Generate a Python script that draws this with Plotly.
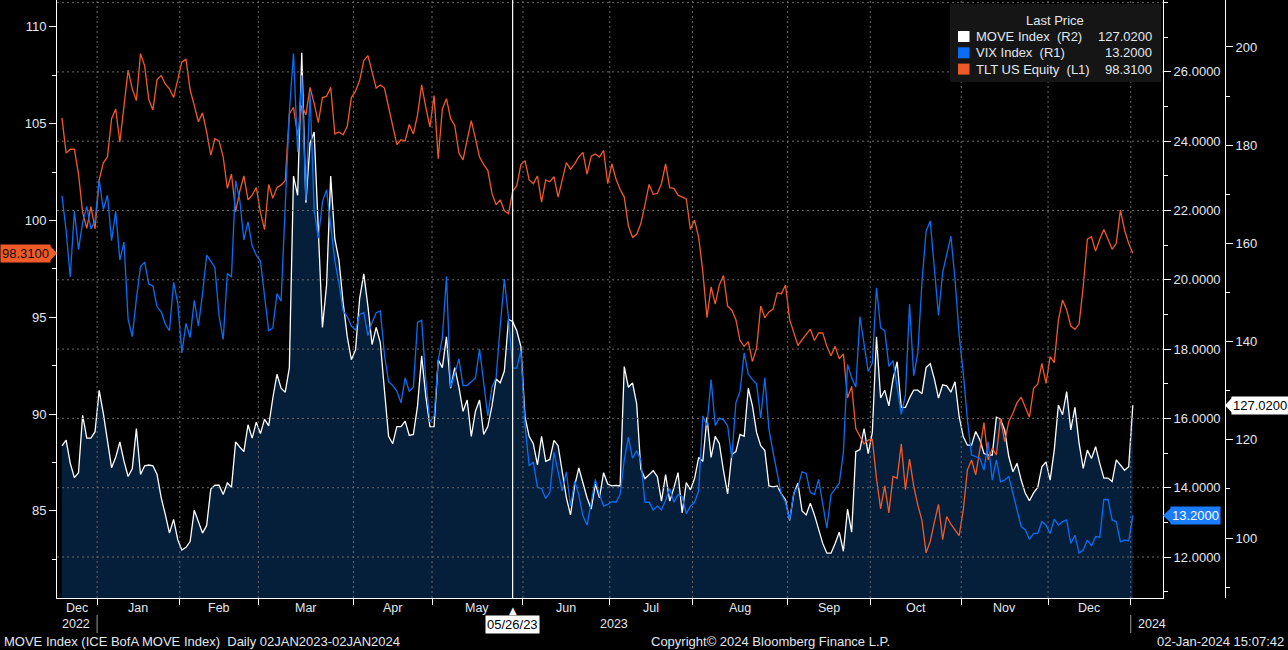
import pandas as pd
import plotly.graph_objects as go

# ---------------- data ----------------
HOLIDAYS = ["2022-12-26", "2023-01-02", "2023-01-16", "2023-02-20", "2023-04-07",
            "2023-05-29", "2023-06-19", "2023-07-04", "2023-09-04", "2023-11-23",
            "2023-12-25", "2024-01-01"]
DATES = [d for d in pd.bdate_range("2022-12-19", "2024-01-02")
         if d.strftime("%Y-%m-%d") not in HOLIDAYS]

MOVE = [
    118.77, 119.94, 115.26, 112.30, 113.31, 125.00, 120.33, 120.33, 121.65, 130.07,
    125.39, 119.94, 114.33, 116.43, 119.55, 115.65, 112.53, 114.09, 122.27, 112.92,
    114.71, 114.87, 114.71, 112.92, 108.24, 104.74, 101.00, 103.80, 99.67, 97.57,
    98.11, 99.28, 105.67, 103.34, 101.00, 102.56, 109.96, 110.74, 110.74, 108.87,
    111.21, 110.35, 119.55, 118.53, 117.60, 123.06, 120.33, 123.60, 121.26, 124.22,
    122.82, 128.51, 133.35, 130.50, 129.70, 134.70, 173.70, 169.80, 198.80, 168.30,
    180.40, 182.70, 162.80, 142.90, 151.50, 173.70, 160.90, 156.60, 148.00, 141.00,
    136.30, 138.30, 148.80, 153.80, 147.20, 139.40, 142.90, 139.80, 130.10, 120.70,
    119.20, 122.70, 122.70, 123.80, 120.90, 121.10, 126.90, 137.10, 128.90, 122.70,
    122.70, 136.30, 134.70, 141.00, 130.50, 134.70, 130.80, 125.80, 128.10, 120.70,
    125.80, 128.10, 121.10, 122.70, 126.90, 132.40, 131.60, 134.00, 144.50, 144.10,
    142.20, 139.00, 124.60, 120.70, 119.20, 114.90, 120.70, 115.60, 116.00, 119.90,
    118.80, 113.70, 108.20, 104.70, 110.60, 114.30, 111.00, 108.20, 105.90, 111.00,
    108.20, 113.30, 111.00, 110.60, 110.70, 110.60, 134.90, 130.70, 131.60, 127.30,
    114.10, 112.10, 112.90, 113.70, 112.50, 107.50, 112.90, 107.50, 110.20, 113.30,
    105.10, 111.30, 109.80, 112.10, 116.40, 115.60, 124.60, 116.40, 120.70, 119.20,
    113.70, 109.00, 117.00, 117.60, 121.10, 120.70, 130.50, 126.90, 121.50, 118.80,
    117.80, 110.60, 110.40, 110.60, 109.00, 107.80, 103.60, 109.00, 111.20, 105.50,
    104.70, 107.10, 104.70, 101.60, 98.90, 96.90, 96.90, 98.90, 101.20, 97.30,
    105.90, 101.20, 117.60, 118.00, 122.30, 117.20, 121.50, 141.00, 128.50, 130.10,
    126.90, 132.40, 135.90, 126.60, 126.60, 128.50, 130.10, 130.10, 129.40, 134.70,
    135.50, 132.40, 128.50, 131.20, 131.00, 129.70, 131.80, 124.70, 120.60, 118.90,
    118.90, 121.70, 120.00, 117.20, 116.90, 116.90, 124.60, 124.20, 122.00, 116.60,
    113.50, 115.20, 111.80, 109.10, 107.60, 109.20, 110.30, 114.50, 115.50, 111.80,
    117.90, 127.10, 125.10, 129.80, 122.00, 126.60, 119.30, 114.20, 117.90, 116.20,
    118.60, 115.20, 112.20, 112.20, 111.50, 115.90, 114.90, 113.80, 114.50, 127.02,
]

VIX = [
    22.42, 21.43, 20.08, 21.98, 20.87, 21.65, 22.12, 21.47, 21.70, 22.88,
    22.03, 22.44, 21.13, 21.98, 20.57, 21.09, 18.86, 18.36, 19.45, 20.38,
    20.51, 19.88, 19.82, 19.22, 19.08, 18.72, 18.53, 19.93, 19.33, 17.89,
    18.74, 18.33, 19.41, 18.66, 19.60, 20.71, 20.54, 20.35, 18.96, 18.28,
    20.18, 20.08, 22.86, 22.31, 21.15, 21.67, 20.98, 20.71, 20.54, 19.55,
    18.53, 18.61, 19.60, 19.38, 22.20, 24.85, 26.53, 23.69, 25.90, 22.30,
    25.40, 22.00, 21.20, 22.25, 22.60, 21.65, 20.54, 19.90, 19.10, 18.94,
    18.66, 18.55, 19.00, 19.05, 18.39, 18.77, 19.05, 19.10, 17.83, 17.06,
    16.95, 16.78, 16.45, 17.17, 16.78, 16.90, 18.77, 18.83, 17.12, 15.90,
    16.07, 17.67, 18.33, 20.10, 16.90, 17.28, 17.72, 16.95, 16.95, 17.06,
    17.17, 18.00, 17.00, 16.07, 16.90, 17.17, 18.66, 20.02, 18.90, 17.45,
    17.45, 17.95, 15.79, 14.63, 14.74, 14.02, 13.97, 13.69, 13.86, 15.02,
    14.46, 13.91, 14.46, 13.47, 14.19, 13.80, 13.19, 12.92, 13.58, 14.24,
    13.80, 13.47, 13.52, 13.60, 13.58, 13.80, 14.80, 15.46, 14.85, 15.07,
    14.80, 13.58, 13.58, 13.36, 13.47, 13.36, 13.64, 13.97, 13.58, 13.80,
    13.75, 13.25, 13.47, 13.58, 13.91, 16.07, 15.79, 17.12, 15.79, 16.01,
    15.96, 15.79, 14.85, 16.45, 16.78, 17.89, 17.28, 17.12, 17.00, 16.01,
    17.17, 15.68, 15.02, 14.41, 13.80, 13.58, 13.08, 13.86, 14.02, 14.46,
    14.41, 13.86, 13.80, 14.24, 13.52, 12.83, 13.80, 13.97, 14.13, 15.02,
    17.56, 17.17, 16.90, 18.94, 18.11, 17.36, 17.60, 19.77, 18.61, 18.53,
    17.50, 17.67, 16.90, 16.12, 16.67, 19.30, 17.23, 17.89, 19.93, 21.40,
    21.70, 20.32, 18.97, 20.21, 20.76, 21.26, 20.00, 18.40, 17.30, 15.95,
    14.94, 14.90, 14.85, 14.51, 15.33, 14.22, 14.80, 14.17, 14.22, 14.32,
    13.84, 13.40, 12.88, 12.78, 12.51, 12.68, 12.68, 13.02, 12.92, 12.68,
    13.09, 12.92, 13.02, 13.07, 12.39, 12.63, 12.11, 12.20, 12.49, 12.32,
    12.59, 12.57, 13.66, 13.66, 13.07, 13.02, 12.44, 12.49, 12.46, 13.20,
]

TLT = [
    105.30, 103.48, 103.68, 103.68, 102.40, 100.42, 99.59, 100.72, 99.57, 102.10,
    102.98, 103.28, 105.26, 105.76, 104.04, 105.85, 107.77, 106.80, 106.20, 108.62,
    107.99, 106.25, 105.71, 107.28, 107.49, 107.04, 106.80, 106.35, 107.24, 108.19,
    108.32, 106.74, 105.95, 105.10, 105.56, 104.57, 103.38, 104.23, 104.11, 103.28,
    101.66, 102.40, 100.46, 101.51, 102.30, 101.07, 101.31, 101.70, 100.42, 99.53,
    101.86, 101.15, 101.70, 101.84, 102.06, 105.50, 105.85, 104.37, 105.95, 105.46,
    106.88, 106.05, 105.06, 106.35, 106.41, 106.88, 104.47, 104.57, 104.43, 104.87,
    106.35, 106.68, 107.24, 108.26, 108.52, 107.73, 106.84, 107.00, 106.84, 105.85,
    104.87, 103.92, 104.17, 104.11, 104.96, 104.47, 105.46, 107.00, 105.85, 104.83,
    106.45, 103.19, 105.76, 106.29, 105.26, 104.91, 103.48, 103.13, 104.17, 105.16,
    104.23, 103.28, 102.89, 102.59, 101.40, 100.81, 101.07, 100.50, 100.35, 101.50,
    101.80, 102.89, 103.09, 102.10, 101.90, 102.30, 100.95, 102.10, 102.00, 102.26,
    101.21, 102.10, 102.99, 102.65, 102.93, 103.28, 103.52, 102.40, 103.32, 103.44,
    103.28, 103.62, 101.90, 102.93, 102.14, 101.60, 101.21, 99.73, 99.13, 99.29,
    99.83, 100.81, 101.86, 101.35, 101.40, 101.90, 102.93, 101.70, 101.66, 101.31,
    101.23, 101.11, 99.53, 100.02, 99.13, 97.36, 94.98, 96.57, 95.68, 96.67,
    97.16, 95.58, 95.38, 94.88, 93.80, 93.50, 93.74, 92.71, 93.40, 95.58,
    94.98, 95.28, 95.42, 96.27, 96.21, 96.67, 94.88, 94.19, 93.54, 93.84,
    94.10, 94.39, 93.80, 94.19, 94.19, 93.50, 93.01, 93.50, 92.85, 93.11,
    90.83, 91.43, 89.25, 88.86, 88.46, 88.66, 88.70, 86.68, 85.10, 86.29,
    84.90, 86.78, 86.68, 88.46, 86.09, 87.67, 86.29, 85.30, 84.51, 82.83,
    83.42, 84.41, 85.34, 83.52, 84.71, 84.31, 84.01, 83.72, 85.05, 87.12,
    87.63, 86.86, 88.15, 89.56, 87.63, 88.23, 87.89, 89.78, 88.58, 89.61,
    90.04, 90.59, 90.87, 90.35, 89.84, 91.33, 91.55, 92.62, 91.59, 92.97,
    92.66, 94.86, 95.89, 95.38, 94.55, 94.38, 94.65, 96.58, 99.04, 99.16,
    98.42, 99.03, 99.54, 99.03, 98.51, 98.82, 100.54, 99.51, 98.82, 98.31,
]

SERIES_NAMES = ["MOVE Index\u00a0\u00a0(R2)", "VIX Index\u00a0\u00a0(R1)", "TLT US Equity\u00a0\u00a0(L1)"]
LEGEND_TITLE = "Last Price"
L1_TICKS = [85, 90, 95, 100, 105, 110]
R1_TICKS = [12, 14, 16, 18, 20, 22, 24, 26]
R1_GRID = [12, 14, 16, 18, 20, 22, 24, 26, 28]
R2_TICKS = [100, 120, 140, 160, 180, 200]
CROSSHAIR_DATE = "2023-05-26"
FOOTER_LEFT = "MOVE Index (ICE BofA MOVE Index)\u00a0\u00a0Daily 02JAN2023-02JAN2024"
FOOTER_MID = "Copyright\u00a9 2024 Bloomberg Finance L.P."
FOOTER_RIGHT = "02-Jan-2024 15:07:42"

# ---------------- style / layout constants ----------------
FONT = "Liberation Sans"
TXT = "#e2e8f0"
ORANGE = "#f05a28"
BLUE = "#0a6ef5"
WHITE = "#ffffff"
FILL = "#051e3a"
GRID = "#6a6a6a"

W, H = 1288, 650
ML, MR, MT, MB = 57, 63, 0, 52
PW, PH = W - ML - MR, H - MT - MB
XDOM = (1163 - ML) / PW
XR = [-1.2, 266.3]
R2_RANGE = [87.78, 209.57]
L1_RANGE = [80.50, 111.39]
R1_RANGE = [10.817, 28.075]


def pxx(p):
    return (p - ML) / PW


def pxy(p):
    return (MT + PH - p) / PH


n = min(len(DATES), len(MOVE), len(VIX), len(TLT))
xi = list(range(n))

# month boundaries (between last trading day of a month and first of the next)
bounds = [k - 0.5 for k in range(1, len(DATES)) if DATES[k].month != DATES[k - 1].month]
seg_edges = [XR[0]] + bounds
seg_labels = [DATES[0].strftime("%b")] + [DATES[int(b + 0.5)].strftime("%b") for b in bounds[:-1]]
month_mid = [(seg_edges[j] + seg_edges[j + 1]) / 2 for j in range(len(seg_labels))]

fig = go.Figure()
fig.add_trace(go.Scatter(x=xi, y=MOVE[:n], yaxis="y", mode="lines",
                         line=dict(color=WHITE, width=1.3), fill="tozeroy",
                         fillcolor=FILL, name=SERIES_NAMES[0]))
fig.add_trace(go.Scatter(x=xi, y=TLT[:n], yaxis="y2", mode="lines",
                         line=dict(color=ORANGE, width=1.3), name=SERIES_NAMES[2]))
fig.add_trace(go.Scatter(x=xi, y=VIX[:n], yaxis="y3", mode="lines",
                         line=dict(color=BLUE, width=1.3), name=SERIES_NAMES[1]))

tickfont = dict(family=FONT, size=13, color=TXT)
common_y = dict(ticks="outside", ticklen=7, tickcolor="white", showline=True,
                linecolor="white", linewidth=1, showgrid=False, zeroline=False,
                tickfont=tickfont, tickmode="array", fixedrange=True)

fig.update_layout(
    width=W, height=H, paper_bgcolor="black", plot_bgcolor="black",
    margin=dict(l=ML, r=MR, t=MT, b=MB, autoexpand=False),
    showlegend=False,
    xaxis=dict(domain=[0, XDOM], range=XR, tickmode="array", tickvals=bounds,
               ticktext=[""] * len(bounds), ticks="outside", ticklen=6,
               tickcolor="white", showline=True, linecolor="white", showgrid=False,
               zeroline=False, anchor="y", fixedrange=True),
    yaxis=dict(range=R2_RANGE, side="right", anchor="free", position=1.0,
               tickvals=R2_TICKS,
               minor=dict(ticks="outside", ticklen=4, tickcolor="white", tick0=0, dtick=10),
               **common_y),
    yaxis2=dict(range=L1_RANGE, side="left", anchor="x", overlaying="y",
                tickvals=L1_TICKS,
                minor=dict(ticks="outside", ticklen=4, tickcolor="white", tick0=0, dtick=2.5),
                **common_y),
    yaxis3=dict(range=R1_RANGE, side="right", anchor="x", overlaying="y",
                tickvals=R1_TICKS, tickformat=".4f",
                minor=dict(ticks="outside", ticklen=4, tickcolor="white", tick0=0, dtick=1),
                **common_y),
)

shapes = []
# dotted grid (above the navy fill, like the terminal chart)
for v in R1_GRID:
    shapes.append(dict(type="line", xref="paper", yref="y3", x0=0, x1=XDOM, y0=v, y1=v,
                       line=dict(color=GRID, width=1, dash="2px,3px"), layer="above"))
for b in bounds:
    shapes.append(dict(type="line", xref="x", yref="paper", x0=b, x1=b, y0=0, y1=1,
                       line=dict(color=GRID, width=1, dash="2px,3px"), layer="above"))

# crosshair
ch = [k for k, d in enumerate(DATES) if d.strftime("%Y-%m-%d") == CROSSHAIR_DATE][0]
shapes.append(dict(type="line", xref="x", yref="paper", x0=ch, x1=ch, y0=0, y1=1,
                   line=dict(color="white", width=1.2), layer="above"))

# year separators
for b in (bounds[0], bounds[-1]):
    shapes.append(dict(type="line", xref="x", yref="paper", x0=b, x1=b,
                       y0=pxy(615), y1=pxy(633), line=dict(color="#9a9a9a", width=1)))

annotations = []
lab = dict(family=FONT, size=12.5, color=TXT)
for m, lbl in zip(month_mid, seg_labels):
    annotations.append(dict(x=m, y=pxy(608), xref="x", yref="paper", text=lbl,
                            showarrow=False, font=lab, xanchor="center", yanchor="middle"))
annotations.append(dict(x=bounds[0], y=pxy(624), xref="x", yref="paper",
                        text=str(DATES[0].year), showarrow=False, font=lab,
                        xanchor="right", yanchor="middle", xshift=-5))
annotations.append(dict(x=(bounds[0] + bounds[-1]) / 2, y=pxy(624), xref="x", yref="paper",
                        text=str(DATES[int(bounds[0] + 0.5)].year), showarrow=False, font=lab,
                        xanchor="center", yanchor="middle"))
annotations.append(dict(x=bounds[-1], y=pxy(624), xref="x", yref="paper",
                        text=str(DATES[-1].year), showarrow=False, font=lab,
                        xanchor="left", yanchor="middle", xshift=5))

# crosshair date label
annotations.append(dict(x=ch, y=pxy(610), xref="x", yref="paper", text="\u25b2",
                        showarrow=False, font=dict(family="DejaVu Sans", size=10, color="white"),
                        xanchor="center", yanchor="middle"))
annotations.append(dict(x=ch, y=pxy(624.5), xref="x", yref="paper",
                        text=DATES[ch].strftime("%m/%d/%y"), showarrow=False,
                        font=dict(family=FONT, size=13, color="black"), bgcolor="white",
                        borderpad=1, xanchor="center", yanchor="middle"))

# footer
foot = dict(family=FONT, size=13, color=TXT)
annotations.append(dict(x=pxx(2), y=pxy(641), xref="paper", yref="paper", text=FOOTER_LEFT,
                        showarrow=False, font=foot, xanchor="left", yanchor="middle"))
annotations.append(dict(x=pxx(770), y=pxy(641), xref="paper", yref="paper", text=FOOTER_MID,
                        showarrow=False, font=foot, xanchor="center", yanchor="middle"))
annotations.append(dict(x=pxx(1286), y=pxy(641), xref="paper", yref="paper", text=FOOTER_RIGHT,
                        showarrow=False, font=foot, xanchor="right", yanchor="middle"))

# legend box
shapes.append(dict(type="rect", xref="paper", yref="paper", x0=pxx(950), x1=pxx(1161),
                   y0=pxy(82), y1=pxy(4), fillcolor="#151515", line=dict(width=0),
                   layer="above"))
annotations.append(dict(x=pxx(1055), y=pxy(20.5), xref="paper", yref="paper", text=LEGEND_TITLE,
                        showarrow=False, font=dict(family=FONT, size=13, color=TXT),
                        xanchor="center", yanchor="middle"))
last_vals = [MOVE[n - 1], VIX[n - 1], TLT[n - 1]]
colors = [WHITE, BLUE, ORANGE]
for j, (nm, val, col) in enumerate(zip(SERIES_NAMES, last_vals, colors)):
    yc = 36.5 + j * 16.3
    shapes.append(dict(type="rect", xref="paper", yref="paper", x0=pxx(958), x1=pxx(969.5),
                       y0=pxy(yc + 5.5), y1=pxy(yc - 5.5), fillcolor=col,
                       line=dict(width=0), layer="above"))
    annotations.append(dict(x=pxx(974), y=pxy(yc), xref="paper", yref="paper", text=nm,
                            showarrow=False, font=dict(family=FONT, size=13, color=TXT),
                            xanchor="left", yanchor="middle"))
    annotations.append(dict(x=pxx(1154), y=pxy(yc), xref="paper", yref="paper",
                            text=f"{val:.4f}", showarrow=False,
                            font=dict(family=FONT, size=13, color=TXT),
                            xanchor="right", yanchor="middle"))


# last-value tags on the axes
def tag(xp_box_edge, anchor, yref, yval, text, bg, fg):
    annotations.append(dict(x=pxx(xp_box_edge), y=yval, xref="paper", yref=yref, text=text,
                            showarrow=False, font=dict(family=FONT, size=13, color=fg),
                            bgcolor=bg, borderpad=1, xanchor=anchor, yanchor="middle"))


def pointer(x_tip, x_base, yref, yval, rng, color):
    d = 7.5 * (rng[1] - rng[0]) / PH
    path = (f"M {pxx(x_base)},{yval + d} L {pxx(x_tip)},{yval} "
            f"L {pxx(x_base)},{yval - d} Z")
    shapes.append(dict(type="path", xref="paper", yref=yref, path=path,
                       fillcolor=color, line=dict(width=0), layer="above"))


tag(51, "right", "y2", TLT[n - 1], f"{TLT[n - 1]:.4f}", ORANGE, "#111111")
pointer(57, 50, "y2", TLT[n - 1], L1_RANGE, ORANGE)
tag(1170, "left", "y3", VIX[n - 1], f"{VIX[n - 1]:.4f}", "#1a7cff", "white")
pointer(1163, 1171, "y3", VIX[n - 1], R1_RANGE, "#1a7cff")
tag(1231, "left", "y", MOVE[n - 1], f"{MOVE[n - 1]:.4f}", "white", "black")
pointer(1225, 1232, "y", MOVE[n - 1], R2_RANGE, "white")

fig.update_layout(shapes=shapes, annotations=annotations)
fig.write_html("out.html", config={"displayModeBar": False},
               post_script="document.body.style.margin='0';document.body.style.overflow='hidden';")
